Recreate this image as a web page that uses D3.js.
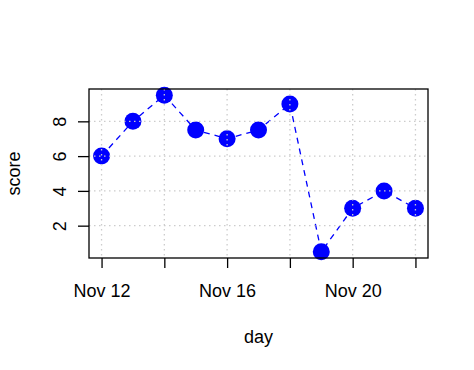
<!DOCTYPE html>
<html>
<head>
<meta charset="utf-8">
<script src="https://cdn.jsdelivr.net/npm/d3@7"></script>
<style>
  body { margin: 0; background: #fff; }
  text { font-family: "Liberation Sans", Arial, sans-serif; }
</style>
</head>
<body>
<div id="chart"></div>
<script>
var days   = ["2023-11-12","2023-11-13","2023-11-14","2023-11-15","2023-11-16","2023-11-17",
              "2023-11-18","2023-11-19","2023-11-20","2023-11-21","2023-11-22"];
var scores = [6, 8, 9.5, 7.5, 7, 7.5, 9, 0.5, 3, 4, 3];
var x_ticks = ["2023-11-12","2023-11-14","2023-11-16","2023-11-18","2023-11-20","2023-11-22"];
var x_labels = ["Nov 12","","Nov 16","","Nov 20",""];
var y_ticks = [2, 4, 6, 8];

var chart_width  = 474;
var chart_height = 370;
var box_left = 89, box_right = 428, box_top = 89, box_bottom = 258;

var parse = d3.timeParse("%Y-%m-%d");
var data = days.map(function(d, i){ return { date: parse(d), score: scores[i] }; });

var svg = d3.select("#chart")
    .append("svg")
    .attr("width", chart_width)
    .attr("height", chart_height);

// R style 4% padding on both axes
var x_ext = d3.extent(data, function(d){ return +d.date; });
var x_pad = (x_ext[1] - x_ext[0]) * 0.04;
var x_scale = d3.scaleTime()
    .domain([new Date(x_ext[0] - x_pad), new Date(x_ext[1] + x_pad)])
    .range([box_left, box_right]);

var y_ext = d3.extent(data, function(d){ return d.score; });
var y_pad = (y_ext[1] - y_ext[0]) * 0.04;
var y_scale = d3.scaleLinear()
    .domain([y_ext[0] - y_pad, y_ext[1] + y_pad])
    .range([box_bottom, box_top]);

// line + points
var line = d3.line()
    .x(function(d){ return x_scale(d.date); })
    .y(function(d){ return y_scale(d.score); });

svg.append("path")
    .datum(data)
    .attr("d", line)
    .attr("fill", "none")
    .attr("stroke", "#0000ff")
    .attr("stroke-width", 1.3)
    .attr("stroke-dasharray", "6,5");

svg.selectAll("circle")
    .data(data)
    .enter()
    .append("circle")
    .attr("cx", function(d){ return x_scale(d.date); })
    .attr("cy", function(d){ return y_scale(d.score); })
    .attr("r", 8.5)
    .attr("fill", "#0000ff");

// grid (drawn on top like grid() after plot)
var x_tick_dates = x_ticks.map(parse);
svg.selectAll(".vgrid")
    .data(x_tick_dates)
    .enter()
    .append("line")
    .attr("x1", function(d){ return x_scale(d); })
    .attr("x2", function(d){ return x_scale(d); })
    .attr("y1", box_top).attr("y2", box_bottom)
    .attr("stroke", "#cccccc")
    .attr("stroke-width", 1.3)
    .attr("stroke-dasharray", "1.5,3.5");

svg.selectAll(".hgrid")
    .data(y_ticks)
    .enter()
    .append("line")
    .attr("x1", box_left).attr("x2", box_right)
    .attr("y1", function(d){ return y_scale(d); })
    .attr("y2", function(d){ return y_scale(d); })
    .attr("stroke", "#cccccc")
    .attr("stroke-width", 1.3)
    .attr("stroke-dasharray", "1.5,3.5");

// box
svg.append("rect")
    .attr("x", box_left).attr("y", box_top)
    .attr("width", box_right - box_left).attr("height", box_bottom - box_top)
    .attr("fill", "none")
    .attr("stroke", "#000")
    .attr("stroke-width", 1.3);

// axes
var x_axis = d3.axisBottom(x_scale)
    .tickValues(x_tick_dates)
    .tickFormat(function(d, i){ return x_labels[i]; })
    .tickSize(10)
    .tickPadding(16);

var gx = svg.append("g")
    .attr("transform", "translate(0," + box_bottom + ")")
    .call(x_axis);

var y_axis = d3.axisLeft(y_scale)
    .tickValues(y_ticks)
    .tickSize(11)
    .tickPadding(7);

var gy = svg.append("g")
    .attr("transform", "translate(" + box_left + ",0)")
    .call(y_axis);

[gx, gy].forEach(function(g){
    g.select(".domain").remove();
    g.selectAll("line").attr("stroke", "#000").attr("stroke-width", 1.3);
    g.selectAll("text")
        .attr("fill", "#000")
        .style("font-size", "18px")
        .style("font-family", "Liberation Sans, Arial, sans-serif");
});

// rotate y tick labels like R
gy.selectAll(".tick text")
    .attr("x", null).attr("dy", null)
    .attr("text-anchor", "middle")
    .attr("transform", "translate(-29,0) rotate(-90) translate(0,6)");

// axis titles
svg.append("text")
    .text("day")
    .attr("x", (box_left + box_right) / 2)
    .attr("y", 343)
    .attr("text-anchor", "middle")
    .style("font-size", "18px");

svg.append("text")
    .text("score")
    .attr("transform", "translate(20," + (box_top + box_bottom) / 2 + ") rotate(-90)")
    .attr("text-anchor", "middle")
    .style("font-size", "18px");
</script>
</body>
</html>
